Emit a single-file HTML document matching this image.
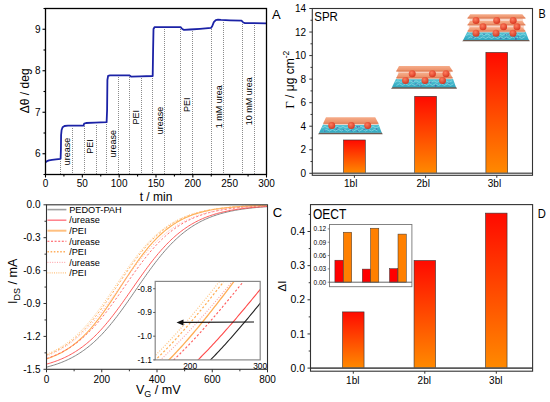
<!DOCTYPE html>
<html><head><meta charset="utf-8"><title>Figure</title><style>html,body{margin:0;padding:0;background:#fff;}svg{display:block;}</style></head>
<body><svg width="550" height="402" viewBox="0 0 550 402" font-family="Liberation Sans, sans-serif">
<rect width="550" height="402" fill="#fff"/>
<line x1="60.50" y1="161.00" x2="60.50" y2="174.00" stroke="#8c8c8c" stroke-width="1" stroke-dasharray="1,1"/>
<line x1="72.50" y1="128.00" x2="72.50" y2="174.00" stroke="#8c8c8c" stroke-width="1" stroke-dasharray="1,1"/>
<line x1="84.50" y1="126.00" x2="84.50" y2="174.00" stroke="#8c8c8c" stroke-width="1" stroke-dasharray="1,1"/>
<line x1="96.50" y1="125.00" x2="96.50" y2="174.00" stroke="#8c8c8c" stroke-width="1" stroke-dasharray="1,1"/>
<line x1="106.50" y1="124.00" x2="106.50" y2="174.00" stroke="#8c8c8c" stroke-width="1" stroke-dasharray="1,1"/>
<line x1="118.50" y1="77.00" x2="118.50" y2="174.00" stroke="#8c8c8c" stroke-width="1" stroke-dasharray="1,1"/>
<line x1="129.50" y1="77.00" x2="129.50" y2="174.00" stroke="#8c8c8c" stroke-width="1" stroke-dasharray="1,1"/>
<line x1="141.50" y1="78.00" x2="141.50" y2="174.00" stroke="#8c8c8c" stroke-width="1" stroke-dasharray="1,1"/>
<line x1="152.50" y1="78.00" x2="152.50" y2="174.00" stroke="#8c8c8c" stroke-width="1" stroke-dasharray="1,1"/>
<line x1="164.50" y1="29.00" x2="164.50" y2="174.00" stroke="#8c8c8c" stroke-width="1" stroke-dasharray="1,1"/>
<line x1="180.50" y1="29.00" x2="180.50" y2="174.00" stroke="#8c8c8c" stroke-width="1" stroke-dasharray="1,1"/>
<line x1="192.50" y1="31.00" x2="192.50" y2="174.00" stroke="#8c8c8c" stroke-width="1" stroke-dasharray="1,1"/>
<line x1="211.50" y1="29.00" x2="211.50" y2="174.00" stroke="#8c8c8c" stroke-width="1" stroke-dasharray="1,1"/>
<line x1="223.50" y1="22.00" x2="223.50" y2="174.00" stroke="#8c8c8c" stroke-width="1" stroke-dasharray="1,1"/>
<line x1="242.50" y1="24.00" x2="242.50" y2="174.00" stroke="#8c8c8c" stroke-width="1" stroke-dasharray="1,1"/>
<line x1="254.50" y1="25.00" x2="254.50" y2="174.00" stroke="#8c8c8c" stroke-width="1" stroke-dasharray="1,1"/>
<polyline fill="none" stroke="#1b22a6" stroke-width="1.8" stroke-linejoin="round" points="45.5,162.2 47.0,161.2 49.0,160.4 52.0,159.8 56.0,159.3 60.6,158.8 60.9,150.0 61.1,135.0 61.6,130.0 62.6,127.2 64.5,126.0 68.0,125.6 83.6,125.6 84.2,123.6 86.0,123.0 95.0,122.7 106.6,122.2 107.1,110.0 107.4,80.0 108.1,75.8 110.0,75.3 129.2,75.3 131.0,76.6 140.0,76.4 152.7,76.0 153.1,50.0 153.5,29.0 154.5,27.2 157.0,27.1 180.6,27.1 182.3,29.0 184.0,29.9 190.0,29.5 200.0,28.8 211.0,27.9 212.3,26.0 213.8,22.2 215.8,20.1 218.0,19.6 221.0,19.9 230.0,20.3 241.5,20.6 243.3,22.5 245.0,23.1 266.5,23.3"/>
<rect x="45.5" y="8.5" width="221.0" height="166.0" fill="none" stroke="#000" stroke-width="1.3"/>
<line x1="45.50" y1="174.50" x2="45.50" y2="177.50" stroke="#000" stroke-width="1.1" />
<line x1="63.92" y1="174.50" x2="63.92" y2="176.50" stroke="#000" stroke-width="1.1" />
<line x1="82.33" y1="174.50" x2="82.33" y2="177.50" stroke="#000" stroke-width="1.1" />
<line x1="100.75" y1="174.50" x2="100.75" y2="176.50" stroke="#000" stroke-width="1.1" />
<line x1="119.17" y1="174.50" x2="119.17" y2="177.50" stroke="#000" stroke-width="1.1" />
<line x1="137.58" y1="174.50" x2="137.58" y2="176.50" stroke="#000" stroke-width="1.1" />
<line x1="156.00" y1="174.50" x2="156.00" y2="177.50" stroke="#000" stroke-width="1.1" />
<line x1="174.42" y1="174.50" x2="174.42" y2="176.50" stroke="#000" stroke-width="1.1" />
<line x1="192.83" y1="174.50" x2="192.83" y2="177.50" stroke="#000" stroke-width="1.1" />
<line x1="211.25" y1="174.50" x2="211.25" y2="176.50" stroke="#000" stroke-width="1.1" />
<line x1="229.67" y1="174.50" x2="229.67" y2="177.50" stroke="#000" stroke-width="1.1" />
<line x1="248.08" y1="174.50" x2="248.08" y2="176.50" stroke="#000" stroke-width="1.1" />
<line x1="266.50" y1="174.50" x2="266.50" y2="177.50" stroke="#000" stroke-width="1.1" />
<text x="45.50" y="187.00" font-size="10" text-anchor="middle" fill="#000" font-family="Liberation Sans, sans-serif">0</text>
<text x="82.33" y="187.00" font-size="10" text-anchor="middle" fill="#000" font-family="Liberation Sans, sans-serif">50</text>
<text x="119.17" y="187.00" font-size="10" text-anchor="middle" fill="#000" font-family="Liberation Sans, sans-serif">100</text>
<text x="156.00" y="187.00" font-size="10" text-anchor="middle" fill="#000" font-family="Liberation Sans, sans-serif">150</text>
<text x="192.83" y="187.00" font-size="10" text-anchor="middle" fill="#000" font-family="Liberation Sans, sans-serif">200</text>
<text x="229.67" y="187.00" font-size="10" text-anchor="middle" fill="#000" font-family="Liberation Sans, sans-serif">250</text>
<text x="266.50" y="187.00" font-size="10" text-anchor="middle" fill="#000" font-family="Liberation Sans, sans-serif">300</text>
<line x1="43.50" y1="174.50" x2="45.50" y2="174.50" stroke="#000" stroke-width="1.1" />
<line x1="42.50" y1="153.75" x2="45.50" y2="153.75" stroke="#000" stroke-width="1.1" />
<line x1="43.50" y1="133.00" x2="45.50" y2="133.00" stroke="#000" stroke-width="1.1" />
<line x1="42.50" y1="112.25" x2="45.50" y2="112.25" stroke="#000" stroke-width="1.1" />
<line x1="43.50" y1="91.50" x2="45.50" y2="91.50" stroke="#000" stroke-width="1.1" />
<line x1="42.50" y1="70.75" x2="45.50" y2="70.75" stroke="#000" stroke-width="1.1" />
<line x1="43.50" y1="50.00" x2="45.50" y2="50.00" stroke="#000" stroke-width="1.1" />
<line x1="42.50" y1="29.25" x2="45.50" y2="29.25" stroke="#000" stroke-width="1.1" />
<line x1="43.50" y1="8.50" x2="45.50" y2="8.50" stroke="#000" stroke-width="1.1" />
<text x="40.50" y="157.35" font-size="10" text-anchor="end" fill="#000" font-family="Liberation Sans, sans-serif">6</text>
<text x="40.50" y="115.85" font-size="10" text-anchor="end" fill="#000" font-family="Liberation Sans, sans-serif">7</text>
<text x="40.50" y="74.35" font-size="10" text-anchor="end" fill="#000" font-family="Liberation Sans, sans-serif">8</text>
<text x="40.50" y="32.85" font-size="10" text-anchor="end" fill="#000" font-family="Liberation Sans, sans-serif">9</text>
<text x="156.00" y="200.50" font-size="12" text-anchor="middle" fill="#000" font-family="Liberation Sans, sans-serif">t / min</text>
<text transform="translate(29.30,90.80) rotate(-90)" font-size="12" text-anchor="middle" fill="#000" font-family="Liberation Sans, sans-serif">&#916;&#952; / deg</text>
<text x="272.00" y="19.00" font-size="13" text-anchor="start" fill="#000" font-family="Liberation Sans, sans-serif">A</text>
<text transform="translate(70.40,151.60) rotate(-90)" font-size="9" text-anchor="middle" fill="#000" font-family="Liberation Sans, sans-serif">urease</text>
<text transform="translate(93.00,146.60) rotate(-90)" font-size="9" text-anchor="middle" fill="#000" font-family="Liberation Sans, sans-serif">PEI</text>
<text transform="translate(116.00,143.70) rotate(-90)" font-size="9" text-anchor="middle" fill="#000" font-family="Liberation Sans, sans-serif">urease</text>
<text transform="translate(138.80,117.20) rotate(-90)" font-size="9" text-anchor="middle" fill="#000" font-family="Liberation Sans, sans-serif">PEI</text>
<text transform="translate(162.50,120.60) rotate(-90)" font-size="9" text-anchor="middle" fill="#000" font-family="Liberation Sans, sans-serif">urease</text>
<text transform="translate(190.00,104.70) rotate(-90)" font-size="9" text-anchor="middle" fill="#000" font-family="Liberation Sans, sans-serif">PEI</text>
<text transform="translate(221.70,106.70) rotate(-90)" font-size="9" text-anchor="middle" fill="#000" font-family="Liberation Sans, sans-serif">1 mM urea</text>
<text transform="translate(252.40,101.20) rotate(-90)" font-size="9" text-anchor="middle" fill="#000" font-family="Liberation Sans, sans-serif">10 mM urea</text>
<defs><linearGradient id="g" x1="0" y1="0" x2="0" y2="1"><stop offset="0" stop-color="#ff0a00"/><stop offset="1" stop-color="#ff8a00"/></linearGradient></defs>
<rect x="343.50" y="139.99" width="21.8" height="33.31" fill="url(#g)" stroke="#333" stroke-width="0.6"/>
<rect x="414.70" y="96.31" width="21.8" height="76.99" fill="url(#g)" stroke="#333" stroke-width="0.6"/>
<rect x="485.90" y="52.41" width="21.8" height="120.89" fill="url(#g)" stroke="#333" stroke-width="0.6"/>
<line x1="312.30" y1="173.30" x2="532.50" y2="173.30" stroke="#666" stroke-width="1.5" />
<rect x="312.3" y="8.5" width="220.2" height="166.8" fill="none" stroke="#333" stroke-width="1.1"/>
<line x1="309.30" y1="173.30" x2="312.30" y2="173.30" stroke="#333" stroke-width="1" />
<line x1="310.50" y1="161.53" x2="312.30" y2="161.53" stroke="#333" stroke-width="1" />
<line x1="309.30" y1="149.76" x2="312.30" y2="149.76" stroke="#333" stroke-width="1" />
<line x1="310.50" y1="137.99" x2="312.30" y2="137.99" stroke="#333" stroke-width="1" />
<line x1="309.30" y1="126.21" x2="312.30" y2="126.21" stroke="#333" stroke-width="1" />
<line x1="310.50" y1="114.44" x2="312.30" y2="114.44" stroke="#333" stroke-width="1" />
<line x1="309.30" y1="102.67" x2="312.30" y2="102.67" stroke="#333" stroke-width="1" />
<line x1="310.50" y1="90.90" x2="312.30" y2="90.90" stroke="#333" stroke-width="1" />
<line x1="309.30" y1="79.13" x2="312.30" y2="79.13" stroke="#333" stroke-width="1" />
<line x1="310.50" y1="67.36" x2="312.30" y2="67.36" stroke="#333" stroke-width="1" />
<line x1="309.30" y1="55.59" x2="312.30" y2="55.59" stroke="#333" stroke-width="1" />
<line x1="310.50" y1="43.81" x2="312.30" y2="43.81" stroke="#333" stroke-width="1" />
<line x1="309.30" y1="32.04" x2="312.30" y2="32.04" stroke="#333" stroke-width="1" />
<line x1="310.50" y1="20.27" x2="312.30" y2="20.27" stroke="#333" stroke-width="1" />
<line x1="309.30" y1="8.50" x2="312.30" y2="8.50" stroke="#333" stroke-width="1" />
<text x="306.00" y="176.90" font-size="10" text-anchor="end" fill="#000" font-family="Liberation Sans, sans-serif">0</text>
<text x="306.00" y="153.36" font-size="10" text-anchor="end" fill="#000" font-family="Liberation Sans, sans-serif">2</text>
<text x="306.00" y="129.81" font-size="10" text-anchor="end" fill="#000" font-family="Liberation Sans, sans-serif">4</text>
<text x="306.00" y="106.27" font-size="10" text-anchor="end" fill="#000" font-family="Liberation Sans, sans-serif">6</text>
<text x="306.00" y="82.73" font-size="10" text-anchor="end" fill="#000" font-family="Liberation Sans, sans-serif">8</text>
<text x="306.00" y="59.19" font-size="10" text-anchor="end" fill="#000" font-family="Liberation Sans, sans-serif">10</text>
<text x="306.00" y="35.64" font-size="10" text-anchor="end" fill="#000" font-family="Liberation Sans, sans-serif">12</text>
<text x="306.00" y="12.10" font-size="10" text-anchor="end" fill="#000" font-family="Liberation Sans, sans-serif">14</text>
<line x1="354.40" y1="175.30" x2="354.40" y2="177.80" stroke="#333" stroke-width="1" />
<line x1="425.60" y1="175.30" x2="425.60" y2="177.80" stroke="#333" stroke-width="1" />
<line x1="496.80" y1="175.30" x2="496.80" y2="177.80" stroke="#333" stroke-width="1" />
<text x="350.70" y="187.00" font-size="10" text-anchor="middle" fill="#000" font-family="Liberation Sans, sans-serif">1bl</text>
<text x="423.20" y="187.00" font-size="10" text-anchor="middle" fill="#000" font-family="Liberation Sans, sans-serif">2bl</text>
<text x="494.50" y="187.00" font-size="10" text-anchor="middle" fill="#000" font-family="Liberation Sans, sans-serif">3bl</text>
<text transform="translate(314.2,21.3) scale(0.86,1)" font-size="13.4" font-family="Liberation Sans, sans-serif">SPR</text>
<text transform="translate(538.4,18.3) scale(0.82,1)" font-size="13.2" font-family="Liberation Sans, sans-serif">B</text>
<text transform="translate(293.6,79.8) rotate(-90)" font-size="12" text-anchor="middle" font-family="Liberation Sans, sans-serif"><tspan font-family="Liberation Serif, serif" font-size="13">&#915;</tspan> / &#956;g cm<tspan dy="-4.5" font-size="8.5">-2</tspan></text>
<defs><linearGradient id="sal" x1="0" y1="0" x2="0" y2="1"><stop offset="0" stop-color="#f6ad8a"/><stop offset="1" stop-color="#e98a62"/></linearGradient><linearGradient id="teal" x1="0" y1="0" x2="0" y2="1"><stop offset="0" stop-color="#58c6d6"/><stop offset="1" stop-color="#30a6be"/></linearGradient><radialGradient id="sph" cx="0.4" cy="0.35" r="0.65"><stop offset="0" stop-color="#ff7a5a"/><stop offset="1" stop-color="#d8321c"/></radialGradient></defs>
<polygon points="318.0,134.2 382.7,134.2 381.9,132.6 319.5,132.6" fill="#6c5a50"/><polygon points="319.0,132.8 381.7,132.8 378.7,124.4 323.0,124.4" fill="url(#teal)"/><polyline points="322.0,128.0 325.0,126.4 328.0,128.0 331.0,126.4 334.0,128.0 337.0,126.4 340.0,128.0 343.0,126.4 346.0,128.0 349.0,126.4 352.0,128.0 355.0,126.4 358.0,128.0 361.0,126.4 364.0,128.0 367.0,126.4 370.0,128.0 373.0,126.4 376.0,128.0 379.0,126.4" fill="none" stroke="#a8e6ee" stroke-width="0.7" opacity="0.8"/><polyline points="323.5,131.0 326.5,129.4 329.5,131.0 332.5,129.4 335.5,131.0 338.5,129.4 341.5,131.0 344.5,129.4 347.5,131.0 350.5,129.4 353.5,131.0 356.5,129.4 359.5,131.0 362.5,129.4 365.5,131.0 368.5,129.4 371.5,131.0 374.5,129.4 377.5,131.0" fill="none" stroke="#a8e6ee" stroke-width="0.7" opacity="0.8"/><circle cx="336.5" cy="129.3" r="0.8" fill="#4a5fa6" opacity="0.7"/><circle cx="343.5" cy="129.7" r="0.8" fill="#4a5fa6" opacity="0.7"/><circle cx="357.0" cy="126.8" r="0.8" fill="#4a5fa6" opacity="0.7"/><circle cx="324.7" cy="130.9" r="0.8" fill="#4a5fa6" opacity="0.7"/><circle cx="337.7" cy="127.7" r="0.8" fill="#4a5fa6" opacity="0.7"/><circle cx="376.5" cy="128.9" r="0.8" fill="#4a5fa6" opacity="0.7"/><circle cx="368.1" cy="129.0" r="0.8" fill="#4a5fa6" opacity="0.7"/><circle cx="357.7" cy="127.2" r="0.8" fill="#4a5fa6" opacity="0.7"/><circle cx="357.5" cy="131.1" r="0.8" fill="#4a5fa6" opacity="0.7"/><circle cx="351.6" cy="130.4" r="0.8" fill="#4a5fa6" opacity="0.7"/><circle cx="359.4" cy="126.7" r="0.8" fill="#4a5fa6" opacity="0.7"/><circle cx="364.0" cy="129.6" r="0.8" fill="#4a5fa6" opacity="0.7"/><polygon points="324.0,124.9 377.7,124.9 375.2,118.2 326.0,118.2" fill="#f8cfbd" opacity="0.85"/><polygon points="323.0,123.7 378.7,123.7 375.2,117.2 326.0,117.2" fill="url(#sal)"/><line x1="323.5" y1="123.3" x2="378.2" y2="123.3" stroke="#d9744c" stroke-width="0.8" opacity="0.8"/><circle cx="331.7" cy="125.6" r="3.5" fill="url(#sph)" opacity="0.95"/><circle cx="351.3" cy="125.6" r="3.5" fill="url(#sph)" opacity="0.95"/><circle cx="367.7" cy="125.6" r="3.5" fill="url(#sph)" opacity="0.95"/>
<polygon points="391.0,88.7 457.0,88.7 456.2,87.1 392.5,87.1" fill="#6c5a50"/><polygon points="392.0,87.3 456.0,87.3 453.0,78.8 396.0,78.8" fill="url(#teal)"/><polyline points="395.0,82.4 398.0,80.8 401.0,82.4 404.0,80.8 407.0,82.4 410.0,80.8 413.0,82.4 416.0,80.8 419.0,82.4 422.0,80.8 425.0,82.4 428.0,80.8 431.0,82.4 434.0,80.8 437.0,82.4 440.0,80.8 443.0,82.4 446.0,80.8 449.0,82.4 452.0,80.8" fill="none" stroke="#a8e6ee" stroke-width="0.7" opacity="0.8"/><polyline points="396.5,85.4 399.5,83.8 402.5,85.4 405.5,83.8 408.5,85.4 411.5,83.8 414.5,85.4 417.5,83.8 420.5,85.4 423.5,83.8 426.5,85.4 429.5,83.8 432.5,85.4 435.5,83.8 438.5,85.4 441.5,83.8 444.5,85.4 447.5,83.8 450.5,85.4 453.5,83.8" fill="none" stroke="#a8e6ee" stroke-width="0.7" opacity="0.8"/><circle cx="413.3" cy="81.0" r="0.8" fill="#4a5fa6" opacity="0.7"/><circle cx="443.7" cy="83.4" r="0.8" fill="#4a5fa6" opacity="0.7"/><circle cx="435.8" cy="85.6" r="0.8" fill="#4a5fa6" opacity="0.7"/><circle cx="435.6" cy="85.9" r="0.8" fill="#4a5fa6" opacity="0.7"/><circle cx="418.3" cy="85.2" r="0.8" fill="#4a5fa6" opacity="0.7"/><circle cx="421.0" cy="85.9" r="0.8" fill="#4a5fa6" opacity="0.7"/><circle cx="444.5" cy="81.3" r="0.8" fill="#4a5fa6" opacity="0.7"/><circle cx="404.3" cy="82.0" r="0.8" fill="#4a5fa6" opacity="0.7"/><circle cx="449.1" cy="83.2" r="0.8" fill="#4a5fa6" opacity="0.7"/><circle cx="430.8" cy="82.5" r="0.8" fill="#4a5fa6" opacity="0.7"/><circle cx="424.4" cy="82.9" r="0.8" fill="#4a5fa6" opacity="0.7"/><circle cx="415.9" cy="84.0" r="0.8" fill="#4a5fa6" opacity="0.7"/><polygon points="397.0,79.3 452.0,79.3 449.5,67.0 399.0,67.0" fill="#f8cfbd" opacity="0.85"/><polygon points="396.0,78.2 453.0,78.2 449.5,72.8 399.0,72.8" fill="url(#sal)"/><line x1="396.5" y1="77.8" x2="452.5" y2="77.8" stroke="#d9744c" stroke-width="0.8" opacity="0.8"/><circle cx="405.5" cy="80.4" r="3.5" fill="url(#sph)" opacity="0.95"/><circle cx="425.0" cy="80.4" r="3.5" fill="url(#sph)" opacity="0.95"/><circle cx="442.5" cy="80.4" r="3.5" fill="url(#sph)" opacity="0.95"/><polygon points="396.0,71.4 453.0,71.4 449.5,66.0 399.0,66.0" fill="url(#sal)"/><line x1="396.5" y1="71.0" x2="452.5" y2="71.0" stroke="#d9744c" stroke-width="0.8" opacity="0.8"/><circle cx="412.2" cy="73.8" r="3.5" fill="url(#sph)" opacity="0.95"/><circle cx="432.4" cy="73.8" r="3.5" fill="url(#sph)" opacity="0.95"/><circle cx="446.0" cy="73.8" r="3.5" fill="url(#sph)" opacity="0.95"/>
<polygon points="462.2,41.3 529.8,41.3 529.0,39.7 463.7,39.7" fill="#6c5a50"/><polygon points="463.2,39.9 528.8,39.9 525.8,31.9 467.2,31.9" fill="url(#teal)"/><polyline points="466.2,35.5 469.2,33.9 472.2,35.5 475.2,33.9 478.2,35.5 481.2,33.9 484.2,35.5 487.2,33.9 490.2,35.5 493.2,33.9 496.2,35.5 499.2,33.9 502.2,35.5 505.2,33.9 508.2,35.5 511.2,33.9 514.2,35.5 517.2,33.9 520.2,35.5 523.2,33.9 526.2,35.5" fill="none" stroke="#a8e6ee" stroke-width="0.7" opacity="0.8"/><polyline points="467.7,38.5 470.7,36.9 473.7,38.5 476.7,36.9 479.7,38.5 482.7,36.9 485.7,38.5 488.7,36.9 491.7,38.5 494.7,36.9 497.7,38.5 500.7,36.9 503.7,38.5 506.7,36.9 509.7,38.5 512.7,36.9 515.7,38.5 518.7,36.9 521.7,38.5 524.7,36.9" fill="none" stroke="#a8e6ee" stroke-width="0.7" opacity="0.8"/><circle cx="500.7" cy="38.4" r="0.8" fill="#4a5fa6" opacity="0.7"/><circle cx="506.1" cy="38.5" r="0.8" fill="#4a5fa6" opacity="0.7"/><circle cx="515.8" cy="38.9" r="0.8" fill="#4a5fa6" opacity="0.7"/><circle cx="505.5" cy="34.7" r="0.8" fill="#4a5fa6" opacity="0.7"/><circle cx="516.1" cy="38.7" r="0.8" fill="#4a5fa6" opacity="0.7"/><circle cx="518.5" cy="36.7" r="0.8" fill="#4a5fa6" opacity="0.7"/><circle cx="507.9" cy="35.0" r="0.8" fill="#4a5fa6" opacity="0.7"/><circle cx="514.4" cy="36.8" r="0.8" fill="#4a5fa6" opacity="0.7"/><circle cx="484.0" cy="34.2" r="0.8" fill="#4a5fa6" opacity="0.7"/><circle cx="515.7" cy="38.8" r="0.8" fill="#4a5fa6" opacity="0.7"/><circle cx="473.1" cy="37.9" r="0.8" fill="#4a5fa6" opacity="0.7"/><circle cx="491.0" cy="34.7" r="0.8" fill="#4a5fa6" opacity="0.7"/><polygon points="468.2,32.4 524.8,32.4 522.3,15.2 470.2,15.2" fill="#f8cfbd" opacity="0.85"/><polygon points="467.2,31.5 525.8,31.5 522.3,27.3 470.2,27.3" fill="url(#sal)"/><line x1="467.7" y1="31.1" x2="525.3" y2="31.1" stroke="#d9744c" stroke-width="0.8" opacity="0.8"/><circle cx="476.0" cy="33.2" r="3.5" fill="url(#sph)" opacity="0.95"/><circle cx="496.0" cy="33.2" r="3.5" fill="url(#sph)" opacity="0.95"/><circle cx="513.0" cy="33.2" r="3.5" fill="url(#sph)" opacity="0.95"/><polygon points="467.2,25.3 525.8,25.3 522.3,21.1 470.2,21.1" fill="url(#sal)"/><line x1="467.7" y1="24.9" x2="525.3" y2="24.9" stroke="#d9744c" stroke-width="0.8" opacity="0.8"/><circle cx="483.0" cy="26.8" r="3.5" fill="url(#sph)" opacity="0.95"/><circle cx="503.6" cy="26.8" r="3.5" fill="url(#sph)" opacity="0.95"/><circle cx="517.0" cy="26.8" r="3.5" fill="url(#sph)" opacity="0.95"/><polygon points="467.2,18.4 525.8,18.4 522.3,14.2 470.2,14.2" fill="url(#sal)"/><line x1="467.7" y1="18.0" x2="525.3" y2="18.0" stroke="#d9744c" stroke-width="0.8" opacity="0.8"/><circle cx="476.0" cy="20.5" r="3.5" fill="url(#sph)" opacity="0.95"/><circle cx="496.7" cy="20.5" r="3.5" fill="url(#sph)" opacity="0.95"/><circle cx="513.2" cy="20.5" r="3.5" fill="url(#sph)" opacity="0.95"/>
<g>
<polyline fill="none" stroke="#777" stroke-width="0.9"  points="46.50,367.15 47.88,366.79 49.26,366.43 50.64,366.04 52.02,365.64 53.41,365.23 54.79,364.79 56.17,364.34 57.55,363.87 58.93,363.37 60.31,362.86 61.69,362.33 63.08,361.77 64.46,361.19 65.84,360.59 67.22,359.96 68.60,359.31 69.98,358.64 71.36,357.93 72.74,357.20 74.12,356.44 75.51,355.66 76.89,354.84 78.27,353.99 79.65,353.12 81.03,352.21 82.41,351.27 83.79,350.30 85.17,349.29 86.56,348.25 87.94,347.17 89.32,346.07 90.70,344.92 92.08,343.74 93.46,342.52 94.84,341.27 96.22,339.98 97.61,338.66 98.99,337.30 100.37,335.90 101.75,334.47 103.13,333.00 104.51,331.49 105.89,329.95 107.28,328.37 108.66,326.76 110.04,325.12 111.42,323.44 112.80,321.74 114.18,320.00 115.56,318.23 116.94,316.44 118.33,314.61 119.71,312.77 121.09,310.89 122.47,309.00 123.85,307.09 125.23,305.15 126.61,303.21 127.99,301.24 129.38,299.27 130.76,297.28 132.14,295.29 133.52,293.28 134.90,291.28 136.28,289.27 137.66,287.27 139.04,285.27 140.43,283.27 141.81,281.28 143.19,279.30 144.57,277.33 145.95,275.37 147.33,273.43 148.71,271.51 150.09,269.60 151.47,267.72 152.86,265.86 154.24,264.03 155.62,262.22 157.00,260.44 158.38,258.68 159.76,256.96 161.14,255.27 162.53,253.61 163.91,251.98 165.29,250.39 166.67,248.83 168.05,247.31 169.43,245.82 170.81,244.37 172.19,242.96 173.57,241.58 174.96,240.24 176.34,238.93 177.72,237.66 179.10,236.43 180.48,235.23 181.86,234.07 183.24,232.94 184.62,231.85 186.01,230.79 187.39,229.77 188.77,228.78 190.15,227.83 191.53,226.90 192.91,226.01 194.29,225.15 195.68,224.32 197.06,223.52 198.44,222.74 199.82,222.00 201.20,221.28 202.58,220.60 203.96,219.93 205.34,219.29 206.72,218.68 208.11,218.09 209.49,217.52 210.87,216.98 212.25,216.45 213.63,215.95 215.01,215.47 216.39,215.01 217.78,214.56 219.16,214.14 220.54,213.73 221.92,213.34 223.30,212.96 224.68,212.61 226.06,212.26 227.44,211.93 228.82,211.62 230.21,211.31 231.59,211.02 232.97,210.75 234.35,210.48 235.73,210.23 237.11,209.99 238.49,209.75 239.88,209.53 241.26,209.32 242.64,209.12 244.02,208.92 245.40,208.74 246.78,208.56 248.16,208.39 249.54,208.23 250.93,208.07 252.31,207.92 253.69,207.78 255.07,207.65 256.45,207.52 257.83,207.39 259.21,207.28 260.59,207.16 261.98,207.06 263.36,206.95 264.74,206.86 266.12,206.76 267.50,206.67"/>
<polyline fill="none" stroke="#ff4848" stroke-width="0.9"  points="46.50,364.15 47.88,363.76 49.26,363.36 50.64,362.94 52.02,362.50 53.41,362.04 54.79,361.56 56.17,361.06 57.55,360.54 58.93,360.00 60.31,359.44 61.69,358.86 63.08,358.25 64.46,357.61 65.84,356.96 67.22,356.27 68.60,355.56 69.98,354.82 71.36,354.06 72.74,353.26 74.12,352.44 75.51,351.59 76.89,350.70 78.27,349.78 79.65,348.84 81.03,347.85 82.41,346.84 83.79,345.79 85.17,344.71 86.56,343.59 87.94,342.44 89.32,341.25 90.70,340.03 92.08,338.77 93.46,337.47 94.84,336.14 96.22,334.77 97.61,333.36 98.99,331.92 100.37,330.45 101.75,328.94 103.13,327.39 104.51,325.81 105.89,324.20 107.28,322.55 108.66,320.88 110.04,319.17 111.42,317.43 112.80,315.66 114.18,313.87 115.56,312.05 116.94,310.21 118.33,308.34 119.71,306.46 121.09,304.55 122.47,302.63 123.85,300.69 125.23,298.74 126.61,296.78 127.99,294.81 129.38,292.83 130.76,290.85 132.14,288.87 133.52,286.88 134.90,284.90 136.28,282.92 137.66,280.95 139.04,278.98 140.43,277.03 141.81,275.09 143.19,273.17 144.57,271.26 145.95,269.37 147.33,267.50 148.71,265.65 150.09,263.83 151.47,262.03 152.86,260.26 154.24,258.52 155.62,256.80 157.00,255.12 158.38,253.47 159.76,251.85 161.14,250.27 162.53,248.72 163.91,247.20 165.29,245.72 166.67,244.27 168.05,242.86 169.43,241.49 170.81,240.15 172.19,238.84 173.57,237.58 174.96,236.35 176.34,235.15 177.72,234.00 179.10,232.87 180.48,231.78 181.86,230.73 183.24,229.71 184.62,228.72 186.01,227.77 187.39,226.84 188.77,225.95 190.15,225.09 191.53,224.27 192.91,223.47 194.29,222.70 195.68,221.95 197.06,221.24 198.44,220.55 199.82,219.89 201.20,219.25 202.58,218.64 203.96,218.05 205.34,217.48 206.72,216.94 208.11,216.42 209.49,215.91 210.87,215.43 212.25,214.97 213.63,214.53 215.01,214.10 216.39,213.70 217.78,213.31 219.16,212.93 220.54,212.57 221.92,212.23 223.30,211.90 224.68,211.59 226.06,211.29 227.44,211.00 228.82,210.72 230.21,210.46 231.59,210.20 232.97,209.96 234.35,209.73 235.73,209.51 237.11,209.30 238.49,209.09 239.88,208.90 241.26,208.71 242.64,208.54 244.02,208.37 245.40,208.21 246.78,208.05 248.16,207.91 249.54,207.76 250.93,207.63 252.31,207.50 253.69,207.38 255.07,207.26 256.45,207.15 257.83,207.04 259.21,206.94 260.59,206.84 261.98,206.75 263.36,206.66 264.74,206.57 266.12,206.49 267.50,206.42"/>
<polyline fill="none" stroke="#ffad55" stroke-width="1.1"  points="46.50,358.92 47.88,358.45 49.26,357.96 50.64,357.45 52.02,356.91 53.41,356.35 54.79,355.76 56.17,355.15 57.55,354.51 58.93,353.84 60.31,353.14 61.69,352.41 63.08,351.65 64.46,350.85 65.84,350.02 67.22,349.16 68.60,348.27 69.98,347.33 71.36,346.37 72.74,345.36 74.12,344.31 75.51,343.23 76.89,342.10 78.27,340.93 79.65,339.73 81.03,338.48 82.41,337.19 83.79,335.85 85.17,334.48 86.56,333.06 87.94,331.59 89.32,330.09 90.70,328.54 92.08,326.95 93.46,325.32 94.84,323.65 96.22,321.93 97.61,320.18 98.99,318.39 100.37,316.57 101.75,314.70 103.13,312.81 104.51,310.88 105.89,308.92 107.28,306.93 108.66,304.92 110.04,302.88 111.42,300.82 112.80,298.75 114.18,296.65 115.56,294.55 116.94,292.43 118.33,290.30 119.71,288.17 121.09,286.04 122.47,283.90 123.85,281.77 125.23,279.65 126.61,277.54 127.99,275.44 129.38,273.35 130.76,271.28 132.14,269.23 133.52,267.20 134.90,265.20 136.28,263.23 137.66,261.28 139.04,259.37 140.43,257.48 141.81,255.64 143.19,253.83 144.57,252.05 145.95,250.32 147.33,248.62 148.71,246.97 150.09,245.35 151.47,243.78 152.86,242.25 154.24,240.77 155.62,239.32 157.00,237.92 158.38,236.56 159.76,235.25 161.14,233.98 162.53,232.74 163.91,231.55 165.29,230.41 166.67,229.30 168.05,228.23 169.43,227.20 170.81,226.21 172.19,225.26 173.57,224.34 174.96,223.46 176.34,222.61 177.72,221.80 179.10,221.02 180.48,220.27 181.86,219.56 183.24,218.87 184.62,218.21 186.01,217.59 187.39,216.98 188.77,216.41 190.15,215.86 191.53,215.33 192.91,214.83 194.29,214.35 195.68,213.89 197.06,213.45 198.44,213.03 199.82,212.63 201.20,212.25 202.58,211.89 203.96,211.54 205.34,211.21 206.72,210.90 208.11,210.60 209.49,210.31 210.87,210.04 212.25,209.78 213.63,209.54 215.01,209.30 216.39,209.08 217.78,208.87 219.16,208.67 220.54,208.47 221.92,208.29 223.30,208.12 224.68,207.95 226.06,207.79 227.44,207.64 228.82,207.50 230.21,207.37 231.59,207.24 232.97,207.12 234.35,207.00 235.73,206.89 237.11,206.78 238.49,206.68 239.88,206.59 241.26,206.50 242.64,206.41 244.02,206.33 245.40,206.25 246.78,206.18 248.16,206.11 249.54,206.05 250.93,205.98 252.31,205.92 253.69,205.87 255.07,205.81 256.45,205.76 257.83,205.71 259.21,205.67 260.59,205.62 261.98,205.58 263.36,205.54 264.74,205.50 266.12,205.47 267.50,205.43"/>
<polyline fill="none" stroke="#ff5a5a" stroke-width="0.9" stroke-dasharray="2.2,2" points="46.50,358.47 47.88,358.01 49.26,357.54 50.64,357.04 52.02,356.52 53.41,355.98 54.79,355.42 56.17,354.83 57.55,354.22 58.93,353.58 60.31,352.92 61.69,352.23 63.08,351.51 64.46,350.77 65.84,349.99 67.22,349.19 68.60,348.35 69.98,347.49 71.36,346.59 72.74,345.66 74.12,344.69 75.51,343.69 76.89,342.66 78.27,341.59 79.65,340.48 81.03,339.34 82.41,338.16 83.79,336.95 85.17,335.70 86.56,334.41 87.94,333.08 89.32,331.72 90.70,330.32 92.08,328.88 93.46,327.40 94.84,325.89 96.22,324.35 97.61,322.76 98.99,321.14 100.37,319.49 101.75,317.81 103.13,316.09 104.51,314.35 105.89,312.57 107.28,310.77 108.66,308.94 110.04,307.08 111.42,305.20 112.80,303.31 114.18,301.39 115.56,299.45 116.94,297.50 118.33,295.54 119.71,293.57 121.09,291.59 122.47,289.60 123.85,287.61 125.23,285.61 126.61,283.62 127.99,281.63 129.38,279.65 130.76,277.68 132.14,275.71 133.52,273.76 134.90,271.82 136.28,269.90 137.66,268.00 139.04,266.12 140.43,264.27 141.81,262.43 143.19,260.63 144.57,258.85 145.95,257.10 147.33,255.38 148.71,253.69 150.09,252.04 151.47,250.41 152.86,248.83 154.24,247.28 155.62,245.76 157.00,244.28 158.38,242.84 159.76,241.43 161.14,240.07 162.53,238.74 163.91,237.44 165.29,236.19 166.67,234.97 168.05,233.79 169.43,232.64 170.81,231.53 172.19,230.46 173.57,229.42 174.96,228.42 176.34,227.45 177.72,226.52 179.10,225.61 180.48,224.74 181.86,223.90 183.24,223.10 184.62,222.32 186.01,221.57 187.39,220.85 188.77,220.16 190.15,219.49 191.53,218.85 192.91,218.24 194.29,217.65 195.68,217.08 197.06,216.54 198.44,216.02 199.82,215.52 201.20,215.04 202.58,214.58 203.96,214.14 205.34,213.72 206.72,213.32 208.11,212.94 209.49,212.57 210.87,212.21 212.25,211.88 213.63,211.55 215.01,211.24 216.39,210.95 217.78,210.67 219.16,210.40 220.54,210.14 221.92,209.89 223.30,209.66 224.68,209.43 226.06,209.22 227.44,209.01 228.82,208.82 230.21,208.63 231.59,208.45 232.97,208.28 234.35,208.12 235.73,207.96 237.11,207.82 238.49,207.68 239.88,207.54 241.26,207.41 242.64,207.29 244.02,207.17 245.40,207.06 246.78,206.96 248.16,206.85 249.54,206.76 250.93,206.67 252.31,206.58 253.69,206.49 255.07,206.41 256.45,206.34 257.83,206.27 259.21,206.20 260.59,206.13 261.98,206.07 263.36,206.01 264.74,205.95 266.12,205.90 267.50,205.84"/>
<polyline fill="none" stroke="#ffad55" stroke-width="1.0" stroke-dasharray="2.2,2" points="46.50,355.10 47.88,354.57 49.26,354.02 50.64,353.44 52.02,352.83 53.41,352.20 54.79,351.55 56.17,350.86 57.55,350.15 58.93,349.40 60.31,348.63 61.69,347.82 63.08,346.98 64.46,346.11 65.84,345.20 67.22,344.26 68.60,343.29 69.98,342.27 71.36,341.22 72.74,340.13 74.12,339.01 75.51,337.84 76.89,336.64 78.27,335.39 79.65,334.11 81.03,332.78 82.41,331.42 83.79,330.01 85.17,328.57 86.56,327.08 87.94,325.56 89.32,323.99 90.70,322.39 92.08,320.75 93.46,319.07 94.84,317.36 96.22,315.61 97.61,313.82 98.99,312.01 100.37,310.16 101.75,308.29 103.13,306.39 104.51,304.46 105.89,302.51 107.28,300.53 108.66,298.54 110.04,296.53 111.42,294.51 112.80,292.48 114.18,290.44 115.56,288.39 116.94,286.33 118.33,284.28 119.71,282.23 121.09,280.18 122.47,278.14 123.85,276.10 125.23,274.08 126.61,272.08 127.99,270.09 129.38,268.12 130.76,266.17 132.14,264.24 133.52,262.34 134.90,260.47 136.28,258.63 137.66,256.81 139.04,255.03 140.43,253.29 141.81,251.58 143.19,249.90 144.57,248.27 145.95,246.67 147.33,245.11 148.71,243.58 150.09,242.10 151.47,240.66 152.86,239.26 154.24,237.90 155.62,236.58 157.00,235.30 158.38,234.06 159.76,232.86 161.14,231.69 162.53,230.57 163.91,229.49 165.29,228.44 166.67,227.43 168.05,226.46 169.43,225.52 170.81,224.61 172.19,223.75 173.57,222.91 174.96,222.11 176.34,221.33 177.72,220.59 179.10,219.88 180.48,219.20 181.86,218.54 183.24,217.92 184.62,217.32 186.01,216.74 187.39,216.19 188.77,215.66 190.15,215.16 191.53,214.67 192.91,214.21 194.29,213.77 195.68,213.35 197.06,212.94 198.44,212.56 199.82,212.19 201.20,211.84 202.58,211.50 203.96,211.18 205.34,210.88 206.72,210.59 208.11,210.31 209.49,210.04 210.87,209.79 212.25,209.55 213.63,209.32 215.01,209.10 216.39,208.89 217.78,208.70 219.16,208.51 220.54,208.33 221.92,208.15 223.30,207.99 224.68,207.84 226.06,207.69 227.44,207.55 228.82,207.41 230.21,207.28 231.59,207.16 232.97,207.05 234.35,206.94 235.73,206.83 237.11,206.73 238.49,206.64 239.88,206.55 241.26,206.46 242.64,206.38 244.02,206.30 245.40,206.23 246.78,206.16 248.16,206.09 249.54,206.03 250.93,205.97 252.31,205.91 253.69,205.85 255.07,205.80 256.45,205.75 257.83,205.71 259.21,205.66 260.59,205.62 261.98,205.58 263.36,205.54 264.74,205.50 266.12,205.47 267.50,205.43"/>
<polyline fill="none" stroke="#ffa0a0" stroke-width="0.9" stroke-dasharray="1,1.6" points="46.50,356.08 47.88,355.54 49.26,354.98 50.64,354.39 52.02,353.78 53.41,353.15 54.79,352.49 56.17,351.81 57.55,351.10 58.93,350.36 60.31,349.60 61.69,348.80 63.08,347.98 64.46,347.13 65.84,346.25 67.22,345.33 68.60,344.39 69.98,343.41 71.36,342.40 72.74,341.36 74.12,340.28 75.51,339.17 76.89,338.03 78.27,336.85 79.65,335.63 81.03,334.38 82.41,333.10 83.79,331.78 85.17,330.43 86.56,329.04 87.94,327.61 89.32,326.15 90.70,324.66 92.08,323.14 93.46,321.58 94.84,319.99 96.22,318.37 97.61,316.72 98.99,315.04 100.37,313.33 101.75,311.60 103.13,309.84 104.51,308.05 105.89,306.25 107.28,304.42 108.66,302.57 110.04,300.71 111.42,298.83 112.80,296.94 114.18,295.04 115.56,293.12 116.94,291.20 118.33,289.28 119.71,287.35 121.09,285.42 122.47,283.49 123.85,281.57 125.23,279.65 126.61,277.74 127.99,275.84 129.38,273.94 130.76,272.07 132.14,270.21 133.52,268.36 134.90,266.54 136.28,264.74 137.66,262.95 139.04,261.20 140.43,259.47 141.81,257.76 143.19,256.08 144.57,254.44 145.95,252.82 147.33,251.23 148.71,249.68 150.09,248.16 151.47,246.67 152.86,245.22 154.24,243.80 155.62,242.41 157.00,241.06 158.38,239.75 159.76,238.47 161.14,237.22 162.53,236.01 163.91,234.84 165.29,233.70 166.67,232.59 168.05,231.52 169.43,230.48 170.81,229.47 172.19,228.50 173.57,227.56 174.96,226.65 176.34,225.77 177.72,224.92 179.10,224.10 180.48,223.31 181.86,222.55 183.24,221.82 184.62,221.11 186.01,220.43 187.39,219.78 188.77,219.15 190.15,218.54 191.53,217.96 192.91,217.40 194.29,216.86 195.68,216.34 197.06,215.85 198.44,215.37 199.82,214.91 201.20,214.47 202.58,214.05 203.96,213.65 205.34,213.26 206.72,212.89 208.11,212.53 209.49,212.19 210.87,211.87 212.25,211.55 213.63,211.26 215.01,210.97 216.39,210.69 217.78,210.43 219.16,210.18 220.54,209.94 221.92,209.71 223.30,209.49 224.68,209.28 226.06,209.08 227.44,208.89 228.82,208.70 230.21,208.53 231.59,208.36 232.97,208.20 234.35,208.04 235.73,207.90 237.11,207.76 238.49,207.62 239.88,207.49 241.26,207.37 242.64,207.26 244.02,207.14 245.40,207.04 246.78,206.94 248.16,206.84 249.54,206.74 250.93,206.66 252.31,206.57 253.69,206.49 255.07,206.41 256.45,206.34 257.83,206.27 259.21,206.20 260.59,206.14 261.98,206.08 263.36,206.02 264.74,205.96 266.12,205.91 267.50,205.86"/>
<polyline fill="none" stroke="#ffc480" stroke-width="1.0" stroke-dasharray="1,1.6" points="46.50,354.26 47.88,353.69 49.26,353.10 50.64,352.49 52.02,351.85 53.41,351.18 54.79,350.48 56.17,349.76 57.55,349.00 58.93,348.22 60.31,347.40 61.69,346.55 63.08,345.67 64.46,344.75 65.84,343.80 67.22,342.81 68.60,341.79 69.98,340.72 71.36,339.63 72.74,338.49 74.12,337.32 75.51,336.10 76.89,334.85 78.27,333.56 79.65,332.22 81.03,330.85 82.41,329.44 83.79,327.99 85.17,326.50 86.56,324.97 87.94,323.40 89.32,321.79 90.70,320.15 92.08,318.47 93.46,316.75 94.84,315.00 96.22,313.22 97.61,311.41 98.99,309.57 100.37,307.70 101.75,305.80 103.13,303.88 104.51,301.93 105.89,299.97 107.28,297.98 108.66,295.98 110.04,293.97 111.42,291.95 112.80,289.92 114.18,287.88 115.56,285.84 116.94,283.80 118.33,281.76 119.71,279.73 121.09,277.70 122.47,275.69 123.85,273.68 125.23,271.69 126.61,269.72 127.99,267.76 129.38,265.83 130.76,263.92 132.14,262.04 133.52,260.19 134.90,258.36 136.28,256.56 137.66,254.80 139.04,253.07 140.43,251.38 141.81,249.72 143.19,248.10 144.57,246.51 145.95,244.96 147.33,243.46 148.71,241.99 150.09,240.56 151.47,239.17 152.86,237.82 154.24,236.51 155.62,235.24 157.00,234.01 158.38,232.82 159.76,231.67 161.14,230.55 162.53,229.47 163.91,228.43 165.29,227.43 166.67,226.46 168.05,225.53 169.43,224.63 170.81,223.77 172.19,222.94 173.57,222.14 174.96,221.37 176.34,220.63 177.72,219.92 179.10,219.24 180.48,218.59 181.86,217.97 183.24,217.37 184.62,216.79 186.01,216.24 187.39,215.72 188.77,215.21 190.15,214.73 191.53,214.27 192.91,213.83 194.29,213.40 195.68,213.00 197.06,212.62 198.44,212.25 199.82,211.90 201.20,211.56 202.58,211.24 203.96,210.93 205.34,210.64 206.72,210.36 208.11,210.10 209.49,209.84 210.87,209.60 212.25,209.37 213.63,209.15 215.01,208.94 216.39,208.74 217.78,208.55 219.16,208.37 220.54,208.20 221.92,208.04 223.30,207.88 224.68,207.73 226.06,207.59 227.44,207.45 228.82,207.32 230.21,207.20 231.59,207.08 232.97,206.97 234.35,206.87 235.73,206.77 237.11,206.67 238.49,206.58 239.88,206.49 241.26,206.41 242.64,206.33 244.02,206.26 245.40,206.18 246.78,206.12 248.16,206.05 249.54,205.99 250.93,205.93 252.31,205.88 253.69,205.82 255.07,205.77 256.45,205.73 257.83,205.68 259.21,205.64 260.59,205.60 261.98,205.56 263.36,205.52 264.74,205.48 266.12,205.45 267.50,205.42"/>
</g>
<rect x="46.5" y="204.8" width="221.0" height="164.5" fill="none" stroke="#333" stroke-width="1.1"/>
<line x1="46.50" y1="369.30" x2="46.50" y2="372.30" stroke="#333" stroke-width="1" />
<line x1="74.12" y1="369.30" x2="74.12" y2="371.30" stroke="#333" stroke-width="1" />
<line x1="101.75" y1="369.30" x2="101.75" y2="372.30" stroke="#333" stroke-width="1" />
<line x1="129.38" y1="369.30" x2="129.38" y2="371.30" stroke="#333" stroke-width="1" />
<line x1="157.00" y1="369.30" x2="157.00" y2="372.30" stroke="#333" stroke-width="1" />
<line x1="184.62" y1="369.30" x2="184.62" y2="371.30" stroke="#333" stroke-width="1" />
<line x1="212.25" y1="369.30" x2="212.25" y2="372.30" stroke="#333" stroke-width="1" />
<line x1="239.88" y1="369.30" x2="239.88" y2="371.30" stroke="#333" stroke-width="1" />
<line x1="267.50" y1="369.30" x2="267.50" y2="372.30" stroke="#333" stroke-width="1" />
<text x="46.50" y="383.00" font-size="10" text-anchor="middle" fill="#000" font-family="Liberation Sans, sans-serif">0</text>
<text x="101.75" y="383.00" font-size="10" text-anchor="middle" fill="#000" font-family="Liberation Sans, sans-serif">200</text>
<text x="157.00" y="383.00" font-size="10" text-anchor="middle" fill="#000" font-family="Liberation Sans, sans-serif">400</text>
<text x="212.25" y="383.00" font-size="10" text-anchor="middle" fill="#000" font-family="Liberation Sans, sans-serif">600</text>
<text x="267.50" y="383.00" font-size="10" text-anchor="middle" fill="#000" font-family="Liberation Sans, sans-serif">800</text>
<line x1="43.50" y1="204.80" x2="46.50" y2="204.80" stroke="#333" stroke-width="1" />
<line x1="44.50" y1="221.25" x2="46.50" y2="221.25" stroke="#333" stroke-width="1" />
<line x1="43.50" y1="237.70" x2="46.50" y2="237.70" stroke="#333" stroke-width="1" />
<line x1="44.50" y1="254.15" x2="46.50" y2="254.15" stroke="#333" stroke-width="1" />
<line x1="43.50" y1="270.60" x2="46.50" y2="270.60" stroke="#333" stroke-width="1" />
<line x1="44.50" y1="287.05" x2="46.50" y2="287.05" stroke="#333" stroke-width="1" />
<line x1="43.50" y1="303.50" x2="46.50" y2="303.50" stroke="#333" stroke-width="1" />
<line x1="44.50" y1="319.95" x2="46.50" y2="319.95" stroke="#333" stroke-width="1" />
<line x1="43.50" y1="336.40" x2="46.50" y2="336.40" stroke="#333" stroke-width="1" />
<line x1="44.50" y1="352.85" x2="46.50" y2="352.85" stroke="#333" stroke-width="1" />
<line x1="43.50" y1="369.30" x2="46.50" y2="369.30" stroke="#333" stroke-width="1" />
<text x="40.50" y="208.40" font-size="10" text-anchor="end" fill="#000" font-family="Liberation Sans, sans-serif">0.0</text>
<text x="40.50" y="241.30" font-size="10" text-anchor="end" fill="#000" font-family="Liberation Sans, sans-serif">-0.3</text>
<text x="40.50" y="274.20" font-size="10" text-anchor="end" fill="#000" font-family="Liberation Sans, sans-serif">-0.6</text>
<text x="40.50" y="307.10" font-size="10" text-anchor="end" fill="#000" font-family="Liberation Sans, sans-serif">-0.9</text>
<text x="40.50" y="340.00" font-size="10" text-anchor="end" fill="#000" font-family="Liberation Sans, sans-serif">-1.2</text>
<text x="40.50" y="372.90" font-size="10" text-anchor="end" fill="#000" font-family="Liberation Sans, sans-serif">-1.5</text>
<line x1="47.40" y1="209.60" x2="66.40" y2="209.60" stroke="#a0a0a0" stroke-width="1.6" />
<text x="69.20" y="212.90" font-size="9.2" text-anchor="start" fill="#000" font-family="Liberation Sans, sans-serif">PEDOT-PAH</text>
<line x1="47.40" y1="220.15" x2="66.40" y2="220.15" stroke="#ff4050" stroke-width="1.0" />
<text x="69.20" y="223.45" font-size="9.2" text-anchor="start" fill="#000" font-family="Liberation Sans, sans-serif">/urease</text>
<line x1="47.40" y1="230.70" x2="66.40" y2="230.70" stroke="#ffc080" stroke-width="2.0" />
<text x="69.20" y="234.00" font-size="9.2" text-anchor="start" fill="#000" font-family="Liberation Sans, sans-serif">/PEI</text>
<line x1="47.40" y1="241.25" x2="66.40" y2="241.25" stroke="#ff5058" stroke-width="1.1" stroke-dasharray="2,1.6"/>
<text x="69.20" y="244.55" font-size="9.2" text-anchor="start" fill="#000" font-family="Liberation Sans, sans-serif">/urease</text>
<line x1="47.40" y1="251.80" x2="66.40" y2="251.80" stroke="#ffb060" stroke-width="1.4" stroke-dasharray="1.6,1.6"/>
<text x="69.20" y="255.10" font-size="9.2" text-anchor="start" fill="#000" font-family="Liberation Sans, sans-serif">/PEI</text>
<line x1="47.40" y1="262.35" x2="66.40" y2="262.35" stroke="#ff9aa0" stroke-width="1.0" stroke-dasharray="1,1.4"/>
<text x="69.20" y="265.65" font-size="9.2" text-anchor="start" fill="#000" font-family="Liberation Sans, sans-serif">/urease</text>
<line x1="47.40" y1="272.90" x2="66.40" y2="272.90" stroke="#ffc480" stroke-width="1.1" stroke-dasharray="1,1.2"/>
<text x="69.20" y="276.20" font-size="9.2" text-anchor="start" fill="#000" font-family="Liberation Sans, sans-serif">/PEI</text>
<text x="272.80" y="217.40" font-size="13" text-anchor="start" fill="#000" font-family="Liberation Sans, sans-serif">C</text>
<text x="135.9" y="394.2" font-size="12.6" font-family="Liberation Sans, sans-serif">V<tspan font-size="9" dy="3.2">G</tspan><tspan dy="-3.2"> / mV</tspan></text>
<text transform="translate(16.9,281.4) rotate(-90)" font-size="12.6" text-anchor="middle" font-family="Liberation Sans, sans-serif">I<tspan font-size="9" dy="3.2">DS</tspan><tspan dy="-3.2"> / mA</tspan></text>
<rect x="155.2" y="281.4" width="105.0" height="78.5" fill="#fff" stroke="none"/>
<clipPath id="ic"><rect x="155.2" y="281.4" width="105.0" height="78.5"/></clipPath>
<g clip-path="url(#ic)">
<polyline fill="none" stroke="#222" stroke-width="1.1"  points="148.20,411.49 149.71,410.53 151.21,409.56 152.72,408.57 154.23,407.57 155.73,406.56 157.24,405.53 158.74,404.49 160.25,403.43 161.76,402.36 163.26,401.28 164.77,400.18 166.28,399.06 167.78,397.94 169.29,396.79 170.79,395.64 172.30,394.47 173.81,393.28 175.31,392.08 176.82,390.86 178.33,389.63 179.83,388.39 181.34,387.13 182.85,385.86 184.35,384.57 185.86,383.27 187.36,381.95 188.87,380.62 190.38,379.27 191.88,377.91 193.39,376.54 194.90,375.15 196.40,373.75 197.91,372.33 199.42,370.90 200.92,369.45 202.43,367.99 203.93,366.52 205.44,365.03 206.95,363.53 208.45,362.02 209.96,360.49 211.47,358.95 212.97,357.40 214.48,355.83 215.98,354.25 217.49,352.66 219.00,351.06 220.50,349.44 222.01,347.81 223.52,346.17 225.02,344.52 226.53,342.86 228.04,341.18 229.54,339.50 231.05,337.80 232.55,336.10 234.06,334.38 235.57,332.66 237.07,330.92 238.58,329.18 240.09,327.43 241.59,325.66 243.10,323.89 244.61,322.12 246.11,320.33 247.62,318.54 249.12,316.74 250.63,314.93 252.14,313.12 253.64,311.30 255.15,309.47 256.66,307.64 258.16,305.80 259.67,303.96 261.17,302.12 262.68,300.27 264.19,298.42 265.69,296.56 267.20,294.70"/>
<polyline fill="none" stroke="#ff4848" stroke-width="1.1"  points="148.20,401.58 149.71,400.55 151.21,399.51 152.72,398.45 154.23,397.37 155.73,396.29 157.24,395.19 158.74,394.07 160.25,392.94 161.76,391.80 163.26,390.64 164.77,389.46 166.28,388.28 167.78,387.07 169.29,385.86 170.79,384.63 172.30,383.38 173.81,382.12 175.31,380.85 176.82,379.56 178.33,378.25 179.83,376.94 181.34,375.60 182.85,374.26 184.35,372.90 185.86,371.52 187.36,370.13 188.87,368.73 190.38,367.31 191.88,365.88 193.39,364.44 194.90,362.98 196.40,361.51 197.91,360.02 199.42,358.52 200.92,357.01 202.43,355.48 203.93,353.95 205.44,352.40 206.95,350.83 208.45,349.26 209.96,347.67 211.47,346.07 212.97,344.46 214.48,342.83 215.98,341.20 217.49,339.55 219.00,337.90 220.50,336.23 222.01,334.55 223.52,332.86 225.02,331.16 226.53,329.46 228.04,327.74 229.54,326.01 231.05,324.28 232.55,322.53 234.06,320.78 235.57,319.02 237.07,317.25 238.58,315.48 240.09,313.70 241.59,311.91 243.10,310.11 244.61,308.31 246.11,306.50 247.62,304.69 249.12,302.88 250.63,301.05 252.14,299.23 253.64,297.40 255.15,295.57 256.66,293.73 258.16,291.89 259.67,290.05 261.17,288.21 262.68,286.36 264.19,284.51 265.69,282.67 267.20,280.82"/>
<polyline fill="none" stroke="#ffad55" stroke-width="1.3"  points="148.20,379.46 149.71,378.15 151.21,376.82 152.72,375.47 154.23,374.11 155.73,372.73 157.24,371.34 158.74,369.93 160.25,368.50 161.76,367.05 163.26,365.59 164.77,364.11 166.28,362.61 167.78,361.09 169.29,359.56 170.79,358.02 172.30,356.45 173.81,354.87 175.31,353.28 176.82,351.67 178.33,350.04 179.83,348.40 181.34,346.74 182.85,345.07 184.35,343.38 185.86,341.68 187.36,339.96 188.87,338.23 190.38,336.49 191.88,334.73 193.39,332.96 194.90,331.18 196.40,329.38 197.91,327.57 199.42,325.75 200.92,323.92 202.43,322.07 203.93,320.22 205.44,318.35 206.95,316.48 208.45,314.59 209.96,312.70 211.47,310.80 212.97,308.88 214.48,306.96 215.98,305.04 217.49,303.10 219.00,301.16 220.50,299.21 222.01,297.26 223.52,295.30 225.02,293.34 226.53,291.37 228.04,289.39 229.54,287.42 231.05,285.44 232.55,283.46 234.06,281.48 235.57,279.49 237.07,277.51 238.58,275.52 240.09,273.53 241.59,271.55 243.10,269.56 244.61,267.58 246.11,265.60 247.62,263.62 249.12,261.65 250.63,259.68 252.14,257.71 253.64,255.75 255.15,253.79 256.66,251.83 258.16,249.89 259.67,247.95 261.17,246.01 262.68,244.09 264.19,242.17 265.69,240.26 267.20,238.36"/>
<polyline fill="none" stroke="#ff5a5a" stroke-width="1.1" stroke-dasharray="2.2,2" points="148.20,382.10 149.71,380.91 151.21,379.70 152.72,378.48 154.23,377.25 155.73,376.00 157.24,374.73 158.74,373.45 160.25,372.16 161.76,370.85 163.26,369.53 164.77,368.19 166.28,366.83 167.78,365.46 169.29,364.08 170.79,362.68 172.30,361.27 173.81,359.84 175.31,358.40 176.82,356.95 178.33,355.48 179.83,353.99 181.34,352.49 182.85,350.98 184.35,349.46 185.86,347.92 187.36,346.37 188.87,344.80 190.38,343.23 191.88,341.64 193.39,340.03 194.90,338.42 196.40,336.79 197.91,335.15 199.42,333.50 200.92,331.84 202.43,330.17 203.93,328.48 205.44,326.79 206.95,325.08 208.45,323.37 209.96,321.64 211.47,319.91 212.97,318.16 214.48,316.41 215.98,314.65 217.49,312.88 219.00,311.11 220.50,309.32 222.01,307.53 223.52,305.73 225.02,303.93 226.53,302.12 228.04,300.30 229.54,298.48 231.05,296.65 232.55,294.82 234.06,292.99 235.57,291.15 237.07,289.31 238.58,287.46 240.09,285.61 241.59,283.76 243.10,281.91 244.61,280.06 246.11,278.20 247.62,276.35 249.12,274.50 250.63,272.64 252.14,270.79 253.64,268.93 255.15,267.08 256.66,265.23 258.16,263.39 259.67,261.54 261.17,259.70 262.68,257.86 264.19,256.03 265.69,254.20 267.20,252.37"/>
<polyline fill="none" stroke="#ffad55" stroke-width="1.2" stroke-dasharray="2.2,2" points="148.20,366.68 149.71,365.30 151.21,363.92 152.72,362.51 154.23,361.09 155.73,359.66 157.24,358.21 158.74,356.74 160.25,355.26 161.76,353.76 163.26,352.25 164.77,350.72 166.28,349.18 167.78,347.62 169.29,346.05 170.79,344.46 172.30,342.86 173.81,341.24 175.31,339.61 176.82,337.97 178.33,336.31 179.83,334.65 181.34,332.96 182.85,331.27 184.35,329.56 185.86,327.84 187.36,326.11 188.87,324.37 190.38,322.61 191.88,320.85 193.39,319.07 194.90,317.29 196.40,315.49 197.91,313.69 199.42,311.87 200.92,310.05 202.43,308.22 203.93,306.38 205.44,304.53 206.95,302.68 208.45,300.82 209.96,298.95 211.47,297.07 212.97,295.20 214.48,293.31 215.98,291.42 217.49,289.53 219.00,287.63 220.50,285.73 222.01,283.82 223.52,281.92 225.02,280.01 226.53,278.10 228.04,276.19 229.54,274.28 231.05,272.36 232.55,270.45 234.06,268.54 235.57,266.63 237.07,264.72 238.58,262.82 240.09,260.91 241.59,259.01 243.10,257.11 244.61,255.22 246.11,253.33 247.62,251.45 249.12,249.57 250.63,247.69 252.14,245.82 253.64,243.96 255.15,242.11 256.66,240.26 258.16,238.42 259.67,236.59 261.17,234.77 262.68,232.95 264.19,231.15 265.69,229.35 267.20,227.57"/>
<polyline fill="none" stroke="#ffa0a0" stroke-width="1.1" stroke-dasharray="1,1.6" points="148.20,370.70 149.71,369.41 151.21,368.11 152.72,366.80 154.23,365.48 155.73,364.14 157.24,362.79 158.74,361.42 160.25,360.04 161.76,358.65 163.26,357.24 164.77,355.82 166.28,354.39 167.78,352.94 169.29,351.48 170.79,350.01 172.30,348.52 173.81,347.03 175.31,345.52 176.82,344.00 178.33,342.46 179.83,340.92 181.34,339.36 182.85,337.79 184.35,336.21 185.86,334.62 187.36,333.02 188.87,331.41 190.38,329.79 191.88,328.15 193.39,326.51 194.90,324.86 196.40,323.20 197.91,321.53 199.42,319.85 200.92,318.16 202.43,316.46 203.93,314.76 205.44,313.05 206.95,311.33 208.45,309.60 209.96,307.87 211.47,306.13 212.97,304.38 214.48,302.63 215.98,300.88 217.49,299.11 219.00,297.35 220.50,295.58 222.01,293.80 223.52,292.02 225.02,290.24 226.53,288.46 228.04,286.67 229.54,284.88 231.05,283.09 232.55,281.29 234.06,279.50 235.57,277.70 237.07,275.91 238.58,274.11 240.09,272.32 241.59,270.52 243.10,268.73 244.61,266.93 246.11,265.14 247.62,263.36 249.12,261.57 250.63,259.79 252.14,258.01 253.64,256.23 255.15,254.46 256.66,252.69 258.16,250.93 259.67,249.17 261.17,247.42 262.68,245.67 264.19,243.93 265.69,242.20 267.20,240.47"/>
<polyline fill="none" stroke="#ffc480" stroke-width="1.2" stroke-dasharray="1,1.6" points="148.20,362.20 149.71,360.78 151.21,359.36 152.72,357.91 154.23,356.45 155.73,354.98 157.24,353.49 158.74,351.98 160.25,350.46 161.76,348.92 163.26,347.38 164.77,345.81 166.28,344.23 167.78,342.64 169.29,341.03 170.79,339.42 172.30,337.78 173.81,336.14 175.31,334.48 176.82,332.80 178.33,331.12 179.83,329.42 181.34,327.71 182.85,325.99 184.35,324.26 185.86,322.52 187.36,320.77 188.87,319.00 190.38,317.23 191.88,315.44 193.39,313.65 194.90,311.85 196.40,310.04 197.91,308.22 199.42,306.39 200.92,304.56 202.43,302.71 203.93,300.86 205.44,299.01 206.95,297.15 208.45,295.28 209.96,293.41 211.47,291.53 212.97,289.65 214.48,287.77 215.98,285.88 217.49,283.99 219.00,282.09 220.50,280.20 222.01,278.30 223.52,276.40 225.02,274.50 226.53,272.61 228.04,270.71 229.54,268.81 231.05,266.91 232.55,265.01 234.06,263.12 235.57,261.23 237.07,259.34 238.58,257.45 240.09,255.57 241.59,253.69 243.10,251.82 244.61,249.95 246.11,248.09 247.62,246.23 249.12,244.38 250.63,242.54 252.14,240.70 253.64,238.87 255.15,237.05 256.66,235.24 258.16,233.44 259.67,231.64 261.17,229.85 262.68,228.08 264.19,226.31 265.69,224.56 267.20,222.81"/>
</g>
<rect x="155.2" y="281.4" width="105.0" height="78.5" fill="none" stroke="#888" stroke-width="1.2"/>
<line x1="153.20" y1="288.75" x2="155.20" y2="288.75" stroke="#555" stroke-width="1" />
<text x="152.00" y="291.65" font-size="8.4" text-anchor="end" fill="#000" font-family="Liberation Sans, sans-serif" fill="#111">-0.8</text>
<line x1="153.20" y1="312.47" x2="155.20" y2="312.47" stroke="#555" stroke-width="1" />
<text x="152.00" y="315.37" font-size="8.4" text-anchor="end" fill="#000" font-family="Liberation Sans, sans-serif" fill="#111">-0.9</text>
<line x1="153.20" y1="336.18" x2="155.20" y2="336.18" stroke="#555" stroke-width="1" />
<text x="152.00" y="339.08" font-size="8.4" text-anchor="end" fill="#000" font-family="Liberation Sans, sans-serif" fill="#111">-1.0</text>
<line x1="153.20" y1="359.90" x2="155.20" y2="359.90" stroke="#555" stroke-width="1" />
<text x="152.00" y="362.80" font-size="8.4" text-anchor="end" fill="#000" font-family="Liberation Sans, sans-serif" fill="#111">-1.1</text>
<text x="190.20" y="368.90" font-size="8.4" text-anchor="middle" fill="#000" font-family="Liberation Sans, sans-serif">200</text>
<text x="260.20" y="368.90" font-size="8.4" text-anchor="middle" fill="#000" font-family="Liberation Sans, sans-serif">300</text>
<line x1="254.00" y1="322.00" x2="182.00" y2="322.40" stroke="#111" stroke-width="1.2" />
<polygon points="176.5,322.5 183.5,319.6 183.5,325.4" fill="#111"/>
<rect x="342.55" y="311.92" width="21.5" height="56.18" fill="url(#g)" stroke="#333" stroke-width="0.6"/>
<rect x="414.05" y="260.53" width="21.5" height="107.57" fill="url(#g)" stroke="#333" stroke-width="0.6"/>
<rect x="485.55" y="213.13" width="21.5" height="154.97" fill="url(#g)" stroke="#333" stroke-width="0.6"/>
<line x1="310.50" y1="368.10" x2="532.60" y2="368.10" stroke="#5a5a5a" stroke-width="1.6" />
<rect x="310.5" y="204.6" width="222.10000000000002" height="166.6" fill="none" stroke="#333" stroke-width="1.1"/>
<line x1="307.50" y1="368.10" x2="310.50" y2="368.10" stroke="#333" stroke-width="1" />
<line x1="308.70" y1="351.03" x2="310.50" y2="351.03" stroke="#333" stroke-width="1" />
<line x1="307.50" y1="333.95" x2="310.50" y2="333.95" stroke="#333" stroke-width="1" />
<line x1="308.70" y1="316.88" x2="310.50" y2="316.88" stroke="#333" stroke-width="1" />
<line x1="307.50" y1="299.80" x2="310.50" y2="299.80" stroke="#333" stroke-width="1" />
<line x1="308.70" y1="282.73" x2="310.50" y2="282.73" stroke="#333" stroke-width="1" />
<line x1="307.50" y1="265.65" x2="310.50" y2="265.65" stroke="#333" stroke-width="1" />
<line x1="308.70" y1="248.58" x2="310.50" y2="248.58" stroke="#333" stroke-width="1" />
<line x1="307.50" y1="231.50" x2="310.50" y2="231.50" stroke="#333" stroke-width="1" />
<line x1="308.70" y1="214.43" x2="310.50" y2="214.43" stroke="#333" stroke-width="1" />
<text x="305.00" y="371.70" font-size="10.5" text-anchor="end" fill="#000" font-family="Liberation Sans, sans-serif">0.0</text>
<text x="305.00" y="337.55" font-size="10.5" text-anchor="end" fill="#000" font-family="Liberation Sans, sans-serif">0.1</text>
<text x="305.00" y="303.40" font-size="10.5" text-anchor="end" fill="#000" font-family="Liberation Sans, sans-serif">0.2</text>
<text x="305.00" y="269.25" font-size="10.5" text-anchor="end" fill="#000" font-family="Liberation Sans, sans-serif">0.3</text>
<text x="305.00" y="235.10" font-size="10.5" text-anchor="end" fill="#000" font-family="Liberation Sans, sans-serif">0.4</text>
<line x1="353.30" y1="371.20" x2="353.30" y2="373.70" stroke="#333" stroke-width="1" />
<line x1="424.80" y1="371.20" x2="424.80" y2="373.70" stroke="#333" stroke-width="1" />
<line x1="496.30" y1="371.20" x2="496.30" y2="373.70" stroke="#333" stroke-width="1" />
<text x="352.80" y="383.60" font-size="10" text-anchor="middle" fill="#000" font-family="Liberation Sans, sans-serif">1bl</text>
<text x="424.30" y="383.60" font-size="10" text-anchor="middle" fill="#000" font-family="Liberation Sans, sans-serif">2bl</text>
<text x="495.80" y="383.60" font-size="10" text-anchor="middle" fill="#000" font-family="Liberation Sans, sans-serif">3bl</text>
<text transform="translate(312.9,219.2) scale(0.87,1)" font-size="13.8" font-family="Liberation Sans, sans-serif">OECT</text>
<text transform="translate(537.8,217.6) scale(0.85,1)" font-size="13.2" font-family="Liberation Sans, sans-serif">D</text>
<text transform="translate(285.50,286.00) rotate(-90)" font-size="11.5" text-anchor="middle" fill="#000" font-family="Liberation Sans, sans-serif">&#916;I</text>
<rect x="329.5" y="224.5" width="82.39999999999998" height="62.19999999999999" fill="#fff" stroke="#777" stroke-width="0.9"/>
<rect x="334.9" y="260.21" width="8.3" height="21.99" fill="#ff0000" stroke="#333" stroke-width="0.5"/>
<rect x="343.4" y="232.23" width="8.3" height="49.97" fill="#ff8000" stroke="#333" stroke-width="0.5"/>
<rect x="362.3" y="269.10" width="8.3" height="13.10" fill="#ff0000" stroke="#333" stroke-width="0.5"/>
<rect x="370.5" y="228.23" width="8.3" height="53.97" fill="#ff8000" stroke="#333" stroke-width="0.5"/>
<rect x="389.5" y="268.65" width="8.3" height="13.55" fill="#ff0000" stroke="#333" stroke-width="0.5"/>
<rect x="398" y="234.10" width="8.3" height="48.10" fill="#ff8000" stroke="#333" stroke-width="0.5"/>
<line x1="329.50" y1="282.20" x2="411.90" y2="282.20" stroke="#555" stroke-width="0.9" />
<line x1="327.70" y1="282.20" x2="329.50" y2="282.20" stroke="#555" stroke-width="0.7" />
<text x="326.20" y="284.50" font-size="6.5" text-anchor="end" fill="#000" font-family="Liberation Sans, sans-serif" fill="#444">0.00</text>
<line x1="327.70" y1="268.88" x2="329.50" y2="268.88" stroke="#555" stroke-width="0.7" />
<text x="326.20" y="271.18" font-size="6.5" text-anchor="end" fill="#000" font-family="Liberation Sans, sans-serif" fill="#444">0.03</text>
<line x1="327.70" y1="255.55" x2="329.50" y2="255.55" stroke="#555" stroke-width="0.7" />
<text x="326.20" y="257.85" font-size="6.5" text-anchor="end" fill="#000" font-family="Liberation Sans, sans-serif" fill="#444">0.06</text>
<line x1="327.70" y1="242.22" x2="329.50" y2="242.22" stroke="#555" stroke-width="0.7" />
<text x="326.20" y="244.53" font-size="6.5" text-anchor="end" fill="#000" font-family="Liberation Sans, sans-serif" fill="#444">0.09</text>
<line x1="327.70" y1="228.90" x2="329.50" y2="228.90" stroke="#555" stroke-width="0.7" />
<text x="326.20" y="231.20" font-size="6.5" text-anchor="end" fill="#000" font-family="Liberation Sans, sans-serif" fill="#444">0.12</text>
</svg></body></html>
